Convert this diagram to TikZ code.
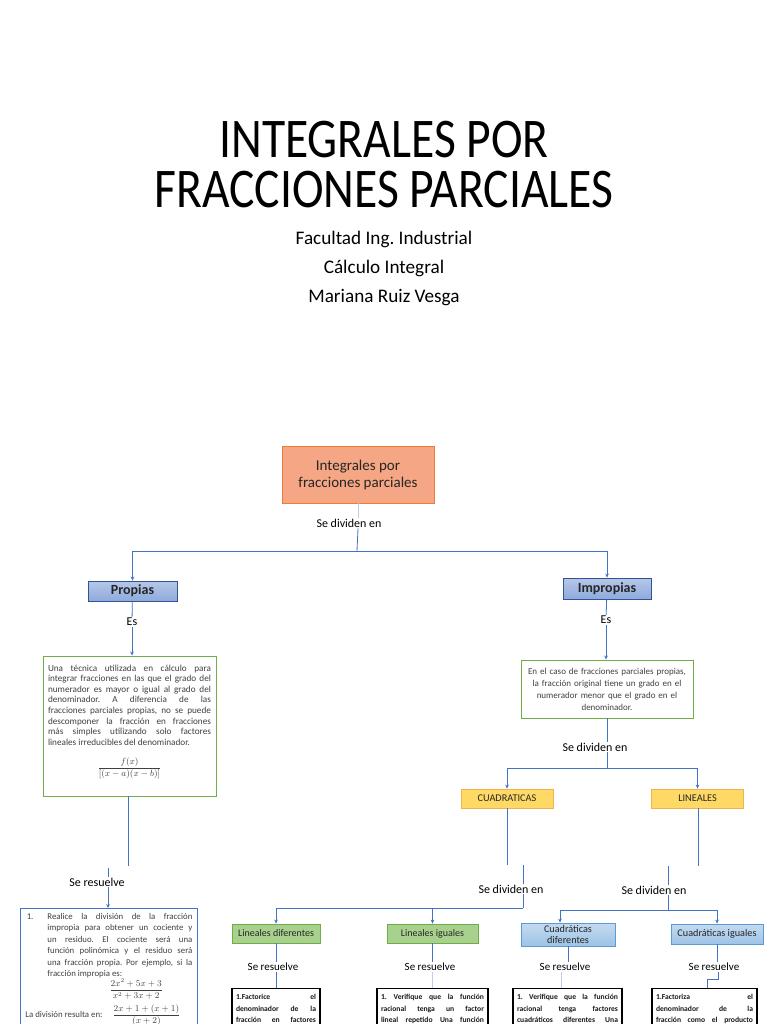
\documentclass[tikz,border=0pt]{standalone}
\usepackage{amsmath}
\usepackage{graphicx}
\usepackage{fontspec}
\setmainfont{Carlito}
\usetikzlibrary{arrows.meta}

\definecolor{linkblue}{RGB}{68,114,196}
\definecolor{salmonfill}{RGB}{245,166,132}
\definecolor{salmonedge}{RGB}{237,125,49}
\definecolor{kindfill}{RGB}{143,170,220}
\definecolor{kindedge}{RGB}{47,85,151}
\definecolor{defedge}{RGB}{112,173,71}
\definecolor{typefill}{RGB}{255,217,102}
\definecolor{typeedge}{RGB}{244,177,80}
\definecolor{linfill}{RGB}{169,209,142}
\definecolor{quadfill}{RGB}{157,195,230}
\definecolor{quadedge}{RGB}{91,155,213}
\definecolor{boxtext}{RGB}{64,64,64}

\newcommand{\fs}[2]{\fontsize{#1}{#2}\selectfont}
\hyphenpenalty=10000
\exhyphenpenalty=10000
\tolerance=9999
\emergencystretch=3em
\hbadness=10000
\frenchspacing

\begin{document}
\begin{tikzpicture}[x=1pt, y=-1pt,
  link/.style={draw=linkblue, line width=0.8pt},
  faint/.style={draw=linkblue!35, line width=0.8pt},
  arr/.style={link, -{Stealth[length=4pt,width=3.6pt]}},
  lbl/.style={font=\fs{12}{14}, inner sep=1pt},
  kind/.style={draw=kindedge, top color=kindfill!65!white, bottom color=kindfill,
    line width=0.8pt, font=\bfseries\fs{14}{16}, text=black!85, inner sep=0pt},
  defbox/.style={draw=defedge, line width=0.9pt, text=boxtext, inner sep=4pt},
  typebox/.style={draw=typeedge, fill=typefill, line width=0.8pt, text=black!85,
    font=\fs{10.3}{12}, inner sep=0pt, minimum width=92, minimum height=19},
  linbox/.style={draw=defedge, fill=linfill, line width=0.8pt, text=black!85,
    font=\fs{10}{12}, inner sep=0pt, minimum width=88, minimum height=19},
  quadbox/.style={draw=quadedge, top color=quadfill!60!white, bottom color=quadfill,
    line width=0.8pt, text=black!85, align=center, font=\fs{10.2}{11.5}, inner sep=0pt,
    minimum width=92, minimum height=20},
  solbox/.style={draw=black, line width=1.1pt, font=\bfseries\fs{7.6}{11.4},
    text=black!90, inner xsep=4pt, inner ysep=6pt, anchor=north, align=justify}
]
\useasboundingbox[fill=white] (0,0) rectangle (768,1024);
\clip (0,0) rectangle (768,1024);

% title
\node[inner sep=0pt] (title1) at (384,140) {\scalebox{0.85}[1]{\fs{56}{60}INTEGRALES POR}};
\node[inner sep=0pt] (title2) at (384,190) {\scalebox{0.85}[1]{\fs{56}{60}FRACCIONES PARCIALES}};
\node[font=\fs{19.2}{29}, align=center, inner sep=0pt] (sub) at (384,268)
  {Facultad Ing. Industrial\\Cálculo Integral\\Mariana Ruiz Vesga};

% root
\node[draw=salmonedge, fill=salmonfill, line width=0.8pt, minimum width=152,
  minimum height=57, align=center, font=\fs{15}{17}, text=black!85] (root)
  at (358,474.5) {Integrales por\\fracciones parciales};
\node[lbl] (div1) at (349,523) {Se dividen en};
\coordinate (bar1) at (357,551);
\draw[faint] (root) -- (root |- div1.north);
\draw[link] (root |- div1.south) -- (bar1);

\node[kind, minimum width=89, minimum height=20] (prop) at (132.5,591) {Propias};
\node[kind, minimum width=88, minimum height=21] (improp) at (607,588.5) {Impropias};
\draw[arr] (bar1) -| (prop);
\draw[arr] (bar1) -| (improp);

\node[lbl] (es1) at (132,622) {Es};
\node[lbl] (es2) at (606,620) {Es};
\draw[link] (prop) -- (es1);
\draw[link] (improp) -- (es2);

% propias
\node[defbox, minimum width=173, minimum height=140, text width=163, align=justify,
  font=\fs{9.2}{10.6}] (propdef) at (129.5,726) {%
  Una técnica utilizada en cálculo para\linebreak
  integrar fracciones en las que el grado del\linebreak
  numerador es mayor o igual al grado del\linebreak
  denominador. A diferencia de las\linebreak
  fracciones parciales propias, no se puede\linebreak
  descomponer la fracción en fracciones\linebreak
  más simples utilizando solo factores\linebreak
  lineales irreducibles del denominador.\par
  \vspace{11pt}
  {\centering $\dfrac{f(x)}{[(x-a)(x-b)]}$\par}
  \vspace*{9pt}};
\draw[arr] (es1) -- (es1 |- propdef.north);

\coordinate (k1) at (128,866);
\coordinate (k2) at (108,868);
\draw[link] (propdef.south -| k1) -- (k1);
\node[lbl] (res0) at (97,882) {Se resuelve};
\draw[link] (k2) -- (k2 |- res0.north);

\node[draw=linkblue, line width=0.9pt, anchor=north west, text width=167, align=justify,
  inner sep=5pt, text=boxtext, font=\fs{8.8}{11.4}] (impdiv) at (20,908) {%
  \leftskip=22pt\noindent\llap{1.\hspace{14pt}}Realice la división de la fracción\linebreak
  impropia para obtener un cociente y\linebreak
  un residuo. El cociente será una\linebreak
  función polinómica y el residuo será\linebreak
  una fracción propia. Por ejemplo, si la\linebreak
  fracción impropia es:\par
  \noindent\hspace*{62pt}$\dfrac{2x^2+5x+3}{x^2+3x+2}$\par
  \vspace{4pt}
  \leftskip=0pt\noindent La división resulta en:\hspace{10pt}$\dfrac{2x+1+(x+1)}{(x+2)}$\par};
\draw[arr] (res0.south -| k2) -- (k2 |- impdiv.north);

% impropias
\node[defbox, minimum width=172, minimum height=58, text width=164, align=center,
  font=\fs{9}{12}] (impdef) at (607,689) {%
  En el caso de fracciones parciales propias,\\
  la fracción original tiene un grado en el\\
  numerador menor que el grado en el\\
  denominador.};
\draw[arr] (es2) -- (es2 |- impdef.north);

\node[lbl] (div2) at (595,747) {Se dividen en};
\coordinate (bar2) at (607,768);
\draw[link] (impdef.south -| bar2) -- (bar2 |- div2.north);
\draw[link] (bar2 |- div2.south) -- (bar2);
\node[typebox] (cuad) at (507,798.5) {CUADRATICAS};
\node[typebox] (lin) at (697.5,798.5) {LINEALES};
\draw[arr] (bar2) -| (cuad);
\draw[arr] (bar2) -| (lin);

% second split
\coordinate (c1) at (507,865);
\coordinate (bar3) at (523,908);
\node[lbl] (div3) at (511,889) {Se dividen en};
\draw[link] (cuad) -- (c1);
\draw[link] (bar3 |- c1) -- (bar3 |- div3.north);
\draw[link] (bar3 |- div3.south) -- (bar3);
\node[linbox] (ld) at (276,933.5) {Lineales diferentes};
\node[linbox, minimum width=91] (li) at (432.5,933.5) {Lineales iguales};
\draw[arr] (bar3) -| (ld);
\draw[arr] (bar3) -| (li);

\coordinate (c2) at (698,866);
\coordinate (bar4) at (668,910);
\node[lbl] (div4) at (654,890) {Se dividen en};
\draw[link] (lin.south -| c2) -- (c2);
\draw[link] (bar4 |- c2) -- (bar4 |- div4.north);
\draw[link] (bar4 |- div4.south) -- (bar4);
\node[quadbox, minimum width=94, minimum height=23] (cd) at (568,934.5) {Cuadráticas\\diferentes};
\node[quadbox] (ci) at (717,934) {Cuadráticas iguales};
\draw[arr] (bar4) -| ([xshift=-8pt]cd.north);
\draw[arr] (bar4) -| (ci);

% how each case is solved
\foreach \up/\n/\rx/\sx/\sw/\tw/\txt in {
    ld/1/273/276/88/80pt/{1.Factorice el\linebreak denominador de la\linebreak fracción en factores},
    li/2/430/432.5/111/103pt/{1. Verifique que la función\linebreak racional tenga un factor\linebreak lineal repetido Una función},
    cd/3/565/567.5/109/101pt/{1. Verifique que la función\linebreak racional tenga factores\linebreak cuadráticos diferentes Una\linebreak función racional tiene},
    ci/4/714/704.5/105/97pt/{1.Factoriza el\linebreak denominador de la\linebreak fracción como el producto}
  } {
  \node[lbl, font=\fs{11}{13}] (res\n) at (\rx,967) {Se resuelve};
  \node[solbox, minimum width=\sw, text width=\tw] (sol\n) at (\sx,988)
    {\parfillskip=0pt \txt\par\vspace*{12pt}};
  \draw[link] (\up) -- (\up |- res\n.north);
}
\draw[link] (res1.south -| ld) -- (sol1.north -| ld);
\draw[faint] (res2.south -| li) -- (sol2.north -| li);
\draw[faint] ([xshift=-4pt]res3.south) -- ([xshift=-4pt]res3.south |- sol3.north);
\coordinate (j4) at (718,979);
\draw[link] (res4.south -| j4) -- (j4) -| ([xshift=3pt]sol4.north);
\end{tikzpicture}
\end{document}
